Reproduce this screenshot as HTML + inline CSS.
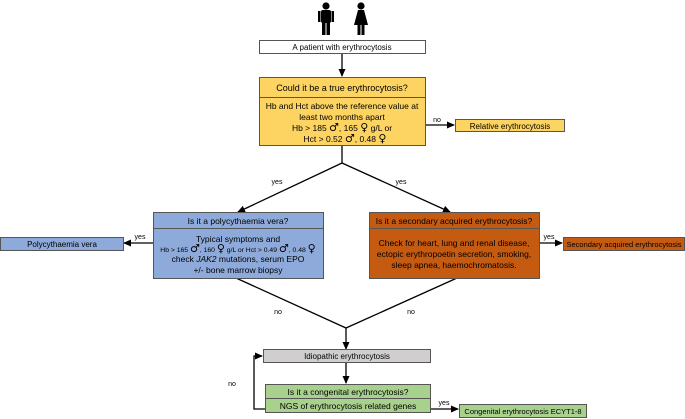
<!DOCTYPE html>
<html><head><style>
html,body{margin:0;padding:0;background:#fff;}
svg{display:block;font-family:"Liberation Sans",sans-serif;}
.g{font-size:11px;font-family:"DejaVu Sans",sans-serif;}
</style></head><body>
<svg width="685" height="419" viewBox="0 0 685 419">
<defs><marker id="a" markerWidth="8" markerHeight="8" refX="7" refY="4" orient="auto" markerUnits="userSpaceOnUse"><path d="M0,0.5 L8,4 L0,7.5 Z" fill="#000"/></marker></defs>
<g fill="#000">
<circle cx="326" cy="6" r="3.6"/>
<rect x="321" y="10" width="10" height="13" rx="2"/>
<rect x="322" y="20" width="3.5" height="15"/><rect x="326.5" y="20" width="3.5" height="15"/>
<rect x="318" y="11" width="2.5" height="11"/><rect x="331.5" y="11" width="2.5" height="11"/>
<circle cx="361" cy="6" r="3.6"/>
<path d="M358,10 L364,10 L368,25 L354,25 Z"/>
<rect x="357.5" y="24" width="3" height="11"/><rect x="361.5" y="24" width="3" height="11"/>
</g>
<g stroke="#000" stroke-width="1.3" fill="none">
<line x1="342" y1="53" x2="342" y2="76" marker-end="url(#a)"/>
<line x1="425" y1="125" x2="454" y2="125" marker-end="url(#a)"/>
<polyline points="342,145 342,163"/>
<line x1="342" y1="163" x2="238" y2="212" marker-end="url(#a)"/>
<line x1="342" y1="163" x2="450" y2="212" marker-end="url(#a)"/>
<line x1="153" y1="243" x2="124" y2="243" marker-end="url(#a)"/>
<line x1="539" y1="243" x2="562" y2="243" marker-end="url(#a)"/>
<polyline points="236,278 346,328 457,278"/>
<line x1="346" y1="328" x2="346" y2="349" marker-end="url(#a)"/>
<line x1="346" y1="363" x2="346" y2="383" marker-end="url(#a)"/>
<line x1="430" y1="409" x2="458" y2="409" marker-end="url(#a)"/>
<polyline points="265,409 254,409 254,356 262,356" marker-end="url(#a)"/>
</g>
<g stroke="#555" stroke-width="1">
<rect x="259.5" y="40.5" width="166" height="13" fill="#fff"/>
<rect x="259.5" y="77.5" width="166" height="68" fill="#fdd462"/>
<line x1="259.5" y1="97.5" x2="425.5" y2="97.5"/>
<rect x="455.5" y="119.5" width="109" height="12" fill="#fdd462"/>
<rect x="153.5" y="212.5" width="170" height="66" fill="#8eaadb"/>
<line x1="153.5" y1="228.5" x2="323.5" y2="228.5"/>
<rect x="0.5" y="237.5" width="123" height="13" fill="#8eaadb"/>
<rect x="369.5" y="212.5" width="170" height="66" fill="#c55a11"/>
<line x1="369.5" y1="228.5" x2="539.5" y2="228.5"/>
<rect x="563.5" y="237.5" width="121" height="13" fill="#c55a11"/>
<rect x="263.5" y="349.5" width="167" height="13" fill="#d0cece"/>
<rect x="265.5" y="384.5" width="165" height="28" fill="#a9d18e"/>
<line x1="265.5" y1="398.5" x2="430.5" y2="398.5"/>
<rect x="459.5" y="404.5" width="127" height="13" fill="#a9d18e"/>
</g>
<g font-size="8" text-anchor="middle" fill="#000">
<text x="342" y="50">A patient with erythrocytosis</text>
<text x="342" y="91" font-size="9">Could it be a true erythrocytosis?</text>
<text x="342" y="109" font-size="8.5">Hb and Hct above the reference value at</text>
<text x="342" y="120" font-size="8.5">least two months apart</text>
<text x="342" y="131" font-size="8.5">Hb &gt; 185 <tspan class="g">♂</tspan>, 165 <tspan class="g">♀</tspan> g/L or</text>
<text x="345" y="142" font-size="8.5">Hct &gt; 0.52 <tspan class="g">♂</tspan>, 0.48 <tspan class="g">♀</tspan></text>
<text x="510" y="129">Relative erythrocytosis</text>
<text x="437" y="122" font-size="7">no</text>
<text x="277" y="184" font-size="7">yes</text>
<text x="401" y="184" font-size="7">yes</text>
<text x="238" y="224" font-size="8.5">Is it a polycythaemia vera?</text>
<text x="238" y="242" font-size="8.5">Typical symptoms and</text>
<text x="238" y="252" font-size="6.8">Hb &gt; 165 <tspan class="g" font-size="9">♂</tspan>, 160 <tspan class="g" font-size="9">♀</tspan> g/L or Hct &gt; 0.49 <tspan class="g" font-size="9">♂</tspan>, 0.48 <tspan class="g" font-size="9">♀</tspan></text>
<text x="238" y="262" font-size="8.5">check <tspan font-style="italic">JAK2</tspan> mutations, serum EPO</text>
<text x="238" y="273" font-size="8.5">+/- bone marrow biopsy</text>
<text x="62" y="247">Polycythaemia vera</text>
<text x="140" y="239" font-size="7">yes</text>
<text x="454" y="224" font-size="8.5">Is it a secondary acquired erythrocytosis?</text>
<text x="454" y="246" font-size="8.5">Check for heart, lung and renal disease,</text>
<text x="454" y="257" font-size="8.5">ectopic erythropoetin secretion, smoking,</text>
<text x="454" y="268" font-size="8.5">sleep apnea, haemochromatosis.</text>
<text x="624" y="247" font-size="7.5">Secondary acquired erythrocytosis</text>
<text x="549" y="239" font-size="7">yes</text>
<text x="278" y="314" font-size="7">no</text>
<text x="411" y="314" font-size="7">no</text>
<text x="347" y="359">Idiopathic erythrocytosis</text>
<text x="348" y="395" font-size="8.5">Is it a congenital erythrocytosis?</text>
<text x="348" y="409" font-size="8.5">NGS of erythrocytosis related genes</text>
<text x="523" y="414" font-size="7.5">Congenital erythrocytosis ECYT1-8</text>
<text x="444" y="405" font-size="7">yes</text>
<text x="232" y="386" font-size="7">no</text>
</g>
</svg>
</body></html>
